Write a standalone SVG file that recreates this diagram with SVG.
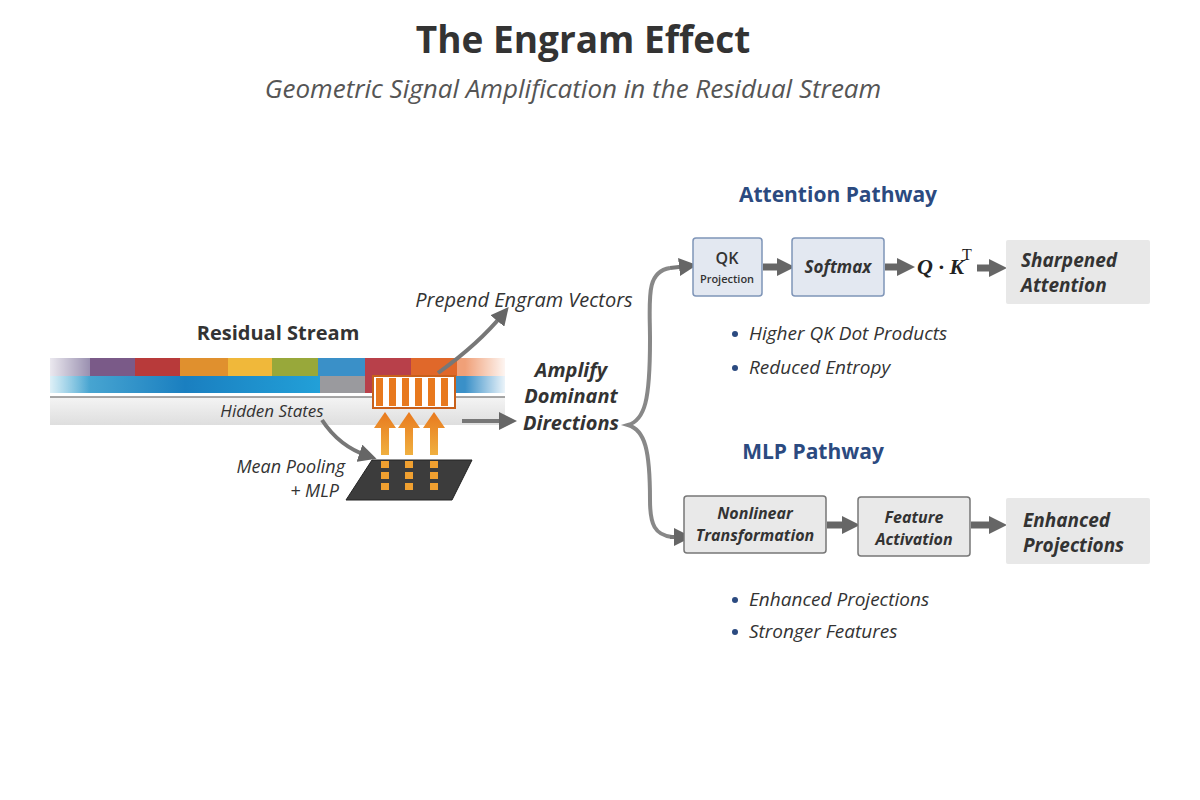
<svg xmlns="http://www.w3.org/2000/svg" width="1200" height="800" viewBox="0 0 1200 800">
<defs>
<style>
text{font-family:"Open Sans","Lato","Liberation Sans",sans-serif;fill:#333}
.t{font-size:37px;font-weight:bold;fill:#333}
.st{font-size:26px;font-style:italic;fill:#555}
.lb{font-size:19px;font-style:italic}
.bi{font-weight:bold;font-style:italic}
.hd{font-size:21px;font-weight:bold;fill:#2b4a80}
.bx{fill:#e3e8f1;stroke:#7f95b8;stroke-width:1.5}
.gb{fill:#e9e9e9;stroke:#777;stroke-width:1.5}
.pb{fill:#e8e8e8}
.ar{stroke:#666;stroke-width:7;fill:none;marker-end:url(#ah)}
.cv{stroke:#777;stroke-width:4;fill:none;marker-end:url(#ah2)}
.dot{fill:#2b4a80}
.sf{font-family:"Liberation Serif","DejaVu Serif",serif;fill:#222}
</style>
<marker id="ah" viewBox="0 0 10 10" refX="5" refY="5" markerWidth="2.6" markerHeight="2.8" orient="auto"><path d="M0,0L10,5L0,10z" fill="#666"/></marker>
<marker id="ah2" viewBox="0 0 10 10" refX="5" refY="5" markerWidth="4.5" markerHeight="4.5" orient="auto"><path d="M0,0L10,5L0,10z" fill="#666"/></marker>
<linearGradient id="fadeL" x1="0" x2="1"><stop offset="0" stop-color="#fff" stop-opacity="0.8"/><stop offset="1" stop-color="#fff" stop-opacity="0"/></linearGradient>
<linearGradient id="fadeR" x1="0" x2="1"><stop offset="0" stop-color="#fff" stop-opacity="0"/><stop offset="1" stop-color="#fff" stop-opacity="0.9"/></linearGradient>
<linearGradient id="blue" x1="0" x2="1"><stop offset="0" stop-color="#5ab4d8"/><stop offset="0.5" stop-color="#1a7fc0"/><stop offset="1" stop-color="#22a0d8"/></linearGradient>
<linearGradient id="band" x1="0" y1="0" x2="0" y2="1"><stop offset="0" stop-color="#f4f4f4"/><stop offset="1" stop-color="#dedede"/></linearGradient>
<linearGradient id="oarr" x1="0" y1="0" x2="0" y2="1"><stop offset="0" stop-color="#e8791e"/><stop offset="1" stop-color="#f0b040"/></linearGradient>
</defs>
<rect width="1200" height="800" fill="#fff"/>
<text class="t" x="583" y="53" text-anchor="middle">The Engram Effect</text>
<text class="st" x="573" y="98" text-anchor="middle">Geometric Signal Amplification in the Residual Stream</text>

<g id="residual-stream">
<text x="278" y="340" text-anchor="middle" font-size="20" font-weight="bold">Residual Stream</text>
<rect x="50" y="358" width="40" height="18" fill="#9a90b0"/>
<rect x="90" y="358" width="45" height="18" fill="#7a5a88"/>
<rect x="135" y="358" width="45" height="18" fill="#b83a3a"/>
<rect x="180" y="358" width="48" height="18" fill="#e0902e"/>
<rect x="228" y="358" width="44" height="18" fill="#f0b83a"/>
<rect x="272" y="358" width="46" height="18" fill="#98a83a"/>
<rect x="318" y="358" width="47" height="18" fill="#3a90c8"/>
<rect x="365" y="358" width="46" height="18" fill="#b8404a"/>
<rect x="411" y="358" width="46" height="18" fill="#e0682a"/>
<rect x="457" y="358" width="48" height="18" fill="#f0a078"/>
<rect x="50" y="376" width="270" height="17" fill="url(#blue)"/>
<rect x="320" y="376" width="45" height="17" fill="#9a9a9e"/>
<rect x="365" y="376" width="10" height="17" fill="#b8404a"/>
<rect x="455" y="376" width="50" height="17" fill="#3a90c8"/>
<rect x="50" y="358" width="40" height="35" fill="url(#fadeL)"/>
<rect x="465" y="358" width="40" height="35" fill="url(#fadeR)"/>
<rect x="50" y="397" width="455" height="28" fill="url(#band)"/>
<line x1="50" y1="397" x2="505" y2="397" stroke="#888" stroke-width="1.5"/>
<text x="272" y="417" text-anchor="middle" font-size="17" font-style="italic">Hidden States</text>
</g>

<g id="engram-vectors">
<rect x="373" y="376" width="82" height="32" fill="#fff" stroke="#c8601a" stroke-width="2"/>
<g fill="#e8791e">
<rect x="376" y="378" width="7" height="28"/><rect x="389" y="378" width="7" height="28"/><rect x="402" y="378" width="7" height="28"/><rect x="415" y="378" width="7" height="28"/><rect x="428" y="378" width="7" height="28"/><rect x="441" y="378" width="7" height="28"/>
</g>
</g>

<g id="mean-pooling">
<polygon points="346,500 372,460 472,460 452,500" fill="#3c3c3c" stroke="#222"/>
<text x="345" y="473" text-anchor="end" font-size="18" font-style="italic">Mean Pooling</text>
<text x="339" y="497" text-anchor="end" font-size="18" font-style="italic">+ MLP</text>
<g fill="url(#oarr)">
<path d="M381,455 V428 H374 L385,412 L396,428 H389 V455 Z"/>
<path d="M405,455 V428 H398 L409,412 L420,428 H413 V455 Z"/>
<path d="M430,455 V428 H423 L434,412 L445,428 H438 V455 Z"/>
</g>
<g fill="#f0a030">
<rect x="381" y="461" width="8" height="7"/><rect x="381" y="472" width="8" height="7"/><rect x="381" y="483" width="8" height="7"/>
<rect x="405" y="461" width="8" height="7"/><rect x="405" y="472" width="8" height="7"/><rect x="405" y="483" width="8" height="7"/>
<rect x="430" y="461" width="8" height="7"/><rect x="430" y="472" width="8" height="7"/><rect x="430" y="483" width="8" height="7"/>
</g>
</g>

<text x="524" y="307" text-anchor="middle" class="lb" style="font-size:20px">Prepend Engram Vectors</text>

<g id="amplify">
<text x="571" y="377" text-anchor="middle" font-size="20" class="bi">Amplify</text>
<text x="571" y="403" text-anchor="middle" font-size="20" class="bi">Dominant</text>
<text x="571" y="430" text-anchor="middle" font-size="20" class="bi">Directions</text>
</g>

<g id="connectors">
<path class="cv" d="M438,373 C470,350 490,330 503,314"/>
<path class="cv" d="M322,420 C335,440 350,450 368,456"/>
<path class="cv" d="M462,421 L508,421"/>
<path d="M670,268 C645,272 650,300 650,340 C650,400 645,420 628,425 C645,430 650,450 650,500 C650,525 655,535 672,537" stroke="#888" stroke-width="4" fill="none"/>
<path d="M670,268 L688,266" class="cv"/>
<path d="M670,537 L683,537" class="cv"/>
<path class="ar" d="M763,267 H786"/>
<path class="ar" d="M885,267 H906"/>
<path class="ar" d="M977,268 H998"/>
<path class="ar" d="M827,525 H851"/>
<path class="ar" d="M971,525 H998"/>
</g>

<text class="hd" x="838" y="202" text-anchor="middle">Attention Pathway</text>
<g id="qk"><rect class="bx" x="693" y="238" width="69" height="58" rx="3"/>
<text x="727" y="264" text-anchor="middle" font-size="16" font-weight="600">QK</text>
<text x="727" y="283" text-anchor="middle" font-size="11" font-weight="600">Projection</text></g>
<g id="softmax"><rect class="bx" x="792" y="238" width="92" height="58" rx="3"/>
<text x="838" y="273" text-anchor="middle" font-size="17" font-weight="bold" font-style="italic">Softmax</text></g>
<g id="qkt"><text x="917" y="274" class="sf" font-size="22" font-weight="bold" font-style="italic">Q · K</text>
<text x="962" y="260" class="sf" font-size="16">T</text></g>
<g id="sharpened"><rect class="pb" x="1006" y="240" width="144" height="64" rx="2"/>
<text x="1021" y="267" font-size="19" class="bi">Sharpened</text>
<text x="1021" y="292" font-size="19" class="bi">Attention</text></g>
<g id="att-bullets"><circle class="dot" cx="735" cy="334" r="3"/><text x="749" y="340" class="lb">Higher QK Dot Products</text>
<circle class="dot" cx="735" cy="368" r="3"/><text x="749" y="374" class="lb">Reduced Entropy</text></g>

<text class="hd" x="813" y="459" text-anchor="middle">MLP Pathway</text>
<g id="nonlinear"><rect class="gb" x="684" y="496" width="142" height="57" rx="3"/>
<text x="755" y="519" text-anchor="middle" font-size="16" class="bi">Nonlinear</text>
<text x="755" y="541" text-anchor="middle" font-size="16" class="bi">Transformation</text></g>
<g id="feature"><rect class="gb" x="858" y="497" width="112" height="59" rx="3"/>
<text x="914" y="523" text-anchor="middle" font-size="16" class="bi">Feature</text>
<text x="914" y="545" text-anchor="middle" font-size="16" class="bi">Activation</text></g>
<g id="enhanced"><rect class="pb" x="1006" y="498" width="144" height="66" rx="2"/>
<text x="1023" y="527" font-size="19" class="bi">Enhanced</text>
<text x="1023" y="552" font-size="19" class="bi">Projections</text></g>
<g id="mlp-bullets"><circle class="dot" cx="735" cy="600" r="3"/><text x="749" y="606" class="lb">Enhanced Projections</text>
<circle class="dot" cx="735" cy="632" r="3"/><text x="749" y="638" class="lb">Stronger Features</text></g>
</svg>
